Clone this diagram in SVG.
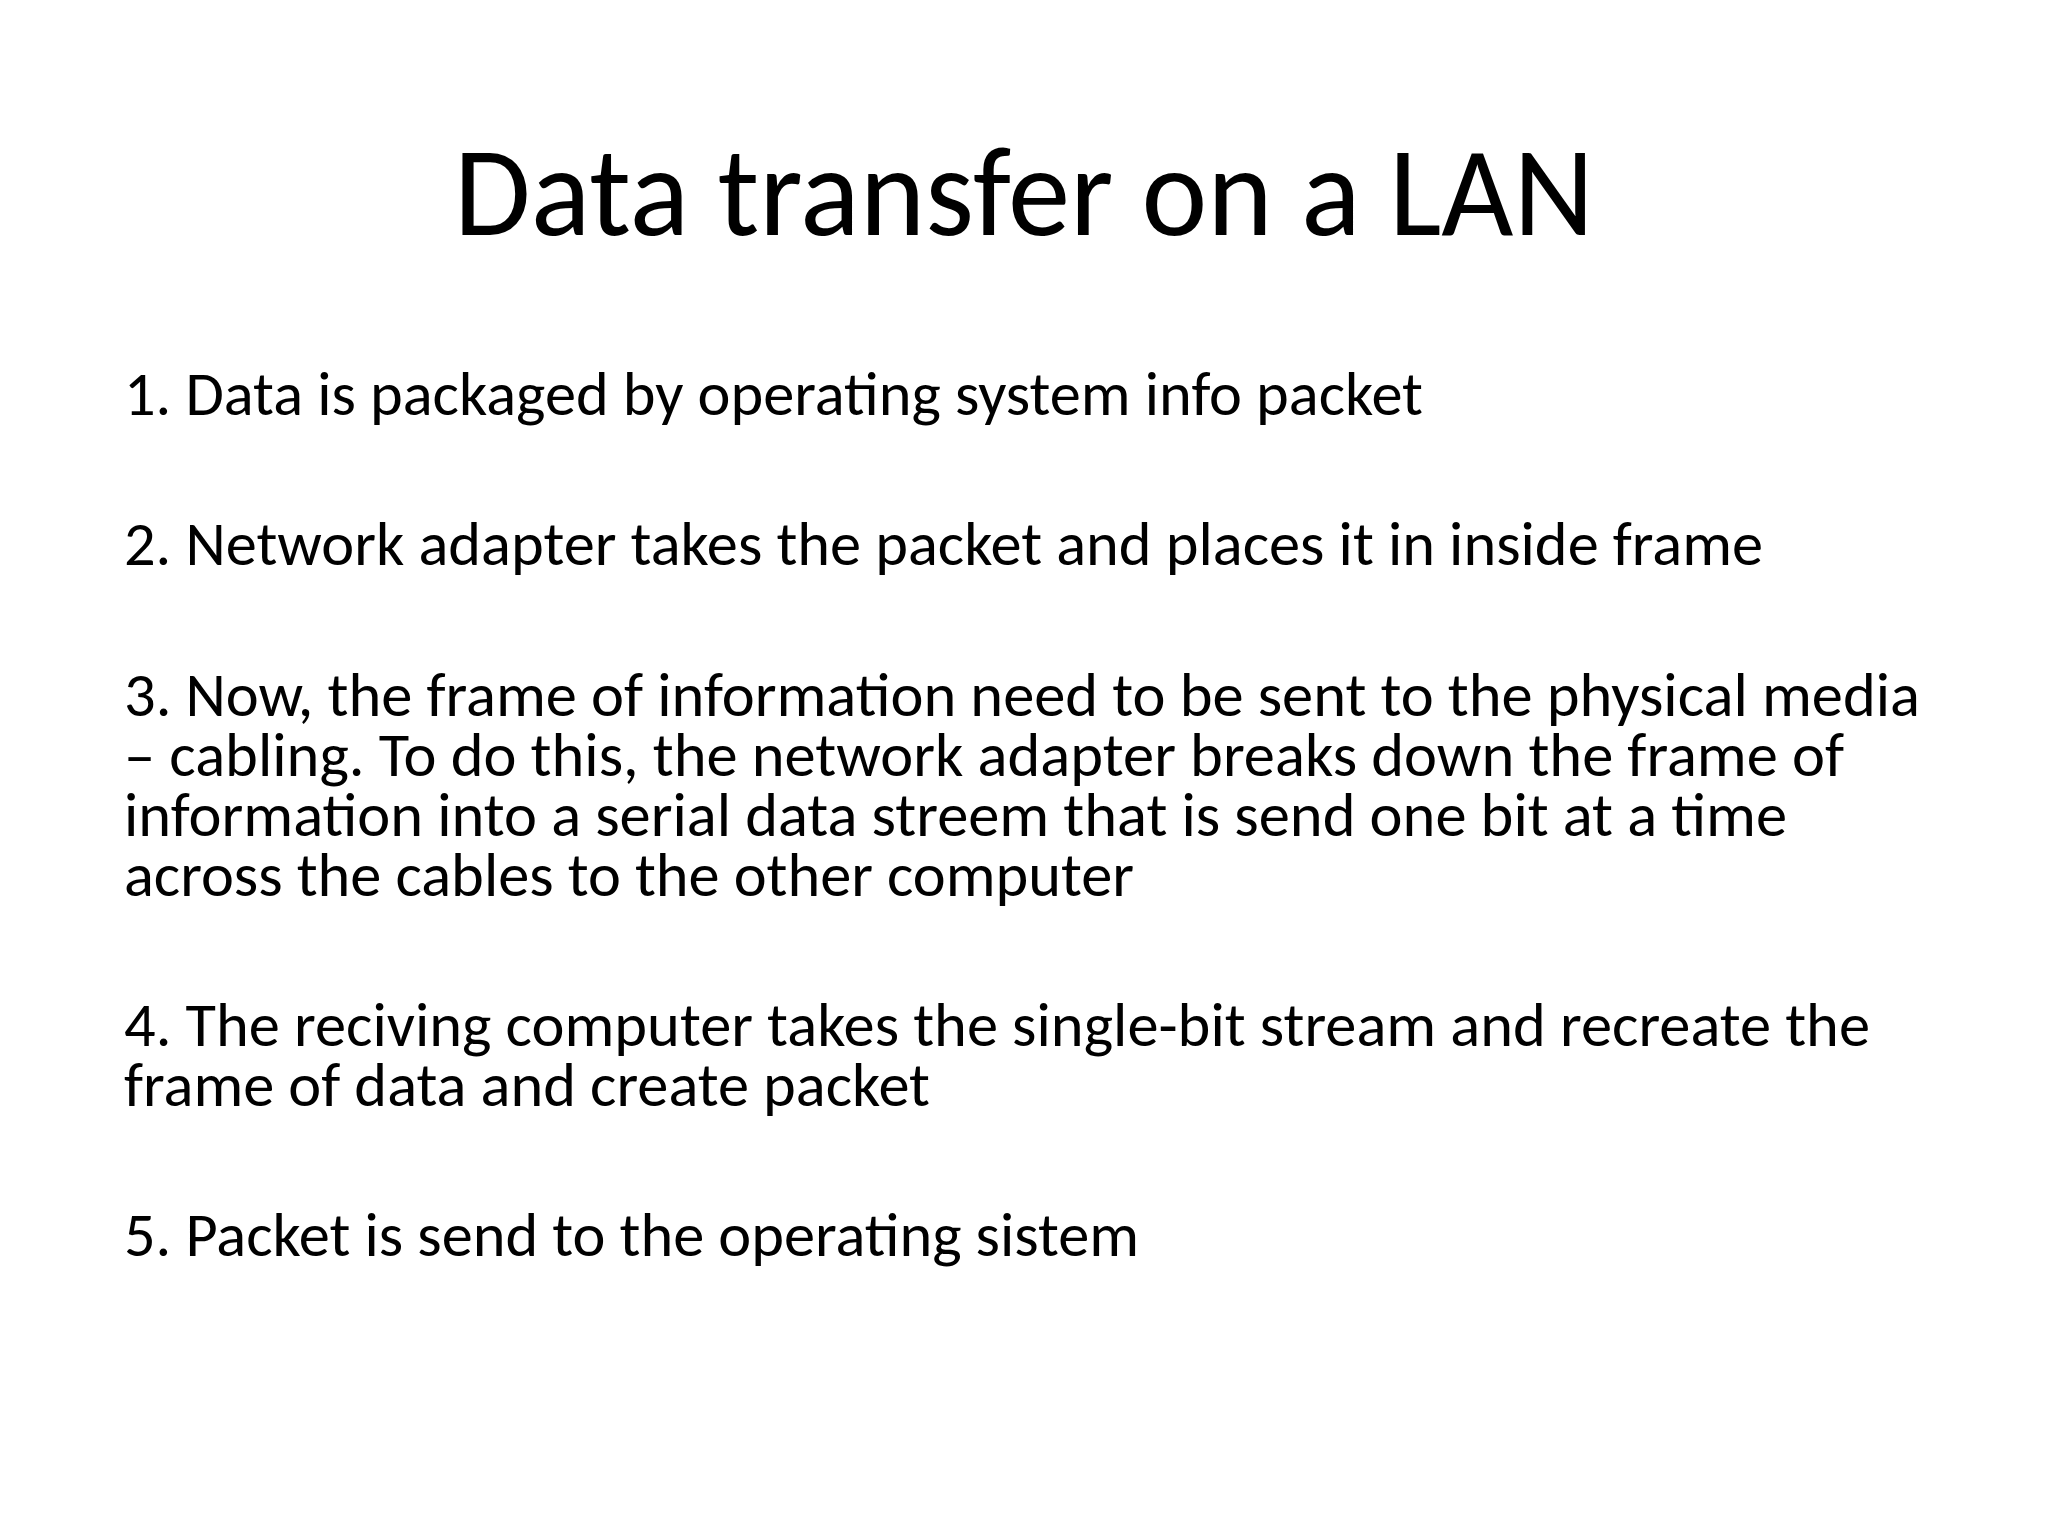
<svg xmlns="http://www.w3.org/2000/svg" width="2048" height="1536" viewBox="0 0 2048 1536">
<style>
.t{font-family:Carlito,Lato,"Open Sans","Liberation Sans",sans-serif;fill:#000}
.b{font-size:62px}
</style>
<rect width="2048" height="1536" fill="#fff"/>
<g id="title"><text class="t" x="1024" y="235" font-size="128" text-anchor="middle" textLength="1140" lengthAdjust="spacingAndGlyphs">Data transfer on a LAN</text></g>
<g id="body">
<text class="t b" x="124" y="415" textLength="1299" lengthAdjust="spacingAndGlyphs">1. Data is packaged by operating system info packet</text>
<text class="t b" x="124" y="565" textLength="1639" lengthAdjust="spacingAndGlyphs">2. Network adapter takes the packet and places it in inside frame</text>
<text class="t b" x="124" y="716" textLength="1796" lengthAdjust="spacingAndGlyphs">3. Now, the frame of information need to be sent to the physical media</text>
<text class="t b" x="124" y="776" textLength="1720" lengthAdjust="spacingAndGlyphs">– cabling. To do this, the network adapter breaks down the frame of</text>
<text class="t b" x="124" y="836" textLength="1663" lengthAdjust="spacingAndGlyphs">information into a serial data streem that is send one bit at a time</text>
<text class="t b" x="124" y="896" textLength="1010" lengthAdjust="spacingAndGlyphs">across the cables to the other computer</text>
<text class="t b" x="124" y="1046" textLength="1746" lengthAdjust="spacingAndGlyphs">4. The reciving computer takes the single-bit stream and recreate the</text>
<text class="t b" x="124" y="1106" textLength="806" lengthAdjust="spacingAndGlyphs">frame of data and create packet</text>
<text class="t b" x="124" y="1256" textLength="1015" lengthAdjust="spacingAndGlyphs">5. Packet is send to the operating sistem</text>
</g>
</svg>
